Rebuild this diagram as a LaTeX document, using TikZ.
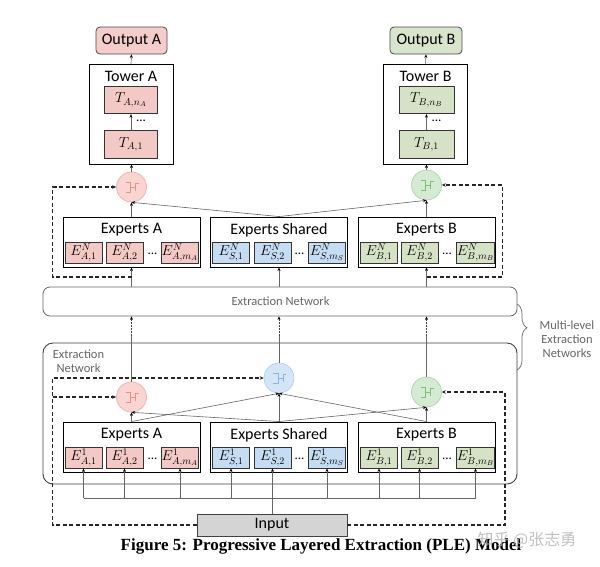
\documentclass[tikz,border=0pt]{standalone}
\usepackage{fontspec}
\newfontfamily\carl{Carlito}
\newfontfamily\capserif{Liberation Serif}
\newfontfamily\cjkfont{Noto Sans CJK SC}
\usetikzlibrary{arrows.meta,decorations.pathreplacing,calc}

\definecolor{pinkE}{HTML}{F2C9C5}
\definecolor{pinkO}{HTML}{F4CCCC}
\definecolor{blueE}{HTML}{C5DCF3}
\definecolor{greenE}{HTML}{D6E2C6}
\definecolor{greenO}{HTML}{D9E4CD}
\definecolor{gApink}{HTML}{F9D4D1}
\definecolor{gApinkD}{HTML}{EEAAA4}
\definecolor{gApinkI}{HTML}{E2938C}
\definecolor{gSblue}{HTML}{D5E5F8}
\definecolor{gSblueD}{HTML}{AFCAEC}
\definecolor{gSblueI}{HTML}{8FB3DF}
\definecolor{gBgreen}{HTML}{D5EAD2}
\definecolor{gBgreenD}{HTML}{A8D2A2}
\definecolor{gBgreenI}{HTML}{80BE79}

\newcommand{\gicon}[2]{%
 \begin{scope}[shift={(#1.center)}, line width=0.5pt, draw=#2]
  \draw (-6,-5) -- (-1,-5) -- (-1,5) -- (-6,5);
  \draw (-1,0) -- (4,0);
  \draw (4,-4) -- (4,4);
  \draw (4,-4) -- (7,-4);
 \end{scope}}

\newcommand{\exrow}[3]{%
 \node[xbox] (#3A) at (131.5,#1) {};
 \node[xbox] (#3S) at (279,#1) {};
 \node[xbox] (#3B) at (426.5,#1) {};
 \node[lab] at (131.5,{#1-12}) {Experts A};
 \node[lab] at (279,{#1-12}) {Experts Shared};
 \node[lab] at (426.5,{#1-12}) {Experts B};
 \node[ebox,fill=pinkE] (#3a1) at (83.5,{#1+10.5}) {$E^{#2}_{A,1}$};
 \node[ebox,fill=pinkE] (#3a2) at (124.5,{#1+10.5}) {$E^{#2}_{A,2}$};
 \node[edots] (#3ad) at (152.5,{#1+12}) {...};
 \node[ebox,fill=pinkE] (#3am) at (180,{#1+10.5}) {$E^{#2}_{A,m_A}$};
 \node[ebox,fill=blueE] (#3s1) at (231,{#1+10.5}) {$E^{#2}_{S,1}$};
 \node[ebox,fill=blueE] (#3s2) at (272.5,{#1+10.5}) {$E^{#2}_{S,2}$};
 \node[edots] (#3sd) at (299.5,{#1+12}) {...};
 \node[ebox,fill=blueE] (#3sm) at (327,{#1+10.5}) {$E^{#2}_{S,m_S}$};
 \node[ebox,fill=greenE] (#3b1) at (379,{#1+10.5}) {$E^{#2}_{B,1}$};
 \node[ebox,fill=greenE] (#3b2) at (419.5,{#1+10.5}) {$E^{#2}_{B,2}$};
 \node[edots] (#3bd) at (447,{#1+12}) {...};
 \node[ebox,fill=greenE] (#3bm) at (475.5,{#1+10.5}) {$E^{#2}_{B,m_B}$};
}

\begin{document}
\begin{tikzpicture}[x=1pt,y=-1pt,
  lab/.style={font=\carl\fontsize{16}{18}\selectfont, inner sep=0pt},
  xbox/.style={draw=black, line width=0.9pt, minimum width=137pt, minimum height=50pt, inner sep=0pt},
  ebox/.style={draw=black!80, line width=0.8pt, minimum width=37pt, minimum height=21pt, inner sep=0pt, font=\fontsize{14}{14}\selectfont},
  tbox/.style={draw=black!80, line width=0.8pt, minimum width=53pt, minimum height=27.5pt, inner sep=0pt, font=\fontsize{14}{14}\selectfont},
  edots/.style={font=\carl\fontsize{13}{13}\selectfont, inner sep=0pt},
  gate/.style={circle, minimum size=30pt, inner sep=0pt, line width=0.6pt},
  conn/.style={draw=black!60, line width=0.6pt, -{Stealth[length=3.5pt,width=3pt,black]}},
  plain/.style={draw=black!60, line width=0.6pt},
  dotc/.style={draw=black!75, line width=0.8pt, dash pattern=on 1.5pt off 1.5pt, -{Stealth[length=3.5pt,width=3pt,black]}},
  dconn/.style={draw=black!85, line width=1.1pt, dash pattern=on 4pt off 2.5pt, -{Stealth[length=4pt,width=3.5pt]}},
  graytxt/.style={text=black!60, font=\carl\fontsize{12.5}{14}\selectfont, inner sep=0pt, align=center}
]
\fill[white] (0,0) rectangle (600,566);
\useasboundingbox (0,0) rectangle (600,566);

% ---------- outputs and towers ----------
\node[lab, draw=black!70, line width=0.8pt, rounded corners=4pt, fill=pinkO, minimum width=71pt, minimum height=27pt] (oA) at (131.5,40.5) {Output A};
\node[lab, draw=black!70, line width=0.8pt, rounded corners=4pt, fill=greenO, minimum width=72pt, minimum height=27pt] (oB) at (426,40.5) {Output B};

\node[draw=black, line width=0.9pt, minimum width=84pt, minimum height=100pt, inner sep=0pt] (towA) at (131,114) {};
\node[lab] (towAl) at (131,76) {Tower A};
\node[tbox, fill=pinkE] (TAn) at (131,100) {$T_{A,n_A}$};
\node[tbox, fill=pinkE] (TA1) at (131,144.5) {$T_{A,1}$};
\node[edots] (TAd) at (141,121) {...};

\node[draw=black, line width=0.9pt, minimum width=84pt, minimum height=100pt, inner sep=0pt] (towB) at (425.5,114) {};
\node[lab] (towBl) at (425.5,76) {Tower B};
\node[tbox, fill=greenE, minimum width=55pt] (TBn) at (426.5,100) {$T_{B,n_B}$};
\node[tbox, fill=greenE, minimum width=55pt] (TB1) at (426.5,144.5) {$T_{B,1}$};
\node[edots] (TBd) at (436.5,121) {...};

\draw[conn] (TA1.north) -- (TAn.south);
\draw[conn] (TB1.north) -- (TBn.south);
\draw[conn] (towA.north) -- (oA.south);
\draw[conn] (towB.north) -- (oB.south);

% ---------- top level ----------
\node[gate, fill=gApink, draw=gApinkD] (gtA) at (131.5,187) {};
\gicon{gtA}{gApinkI}
\node[gate, fill=gBgreen, draw=gBgreenD] (gtB) at (426.5,185) {};
\gicon{gtB}{gBgreenI}

\exrow{242}{N}{t}

\draw[conn] (tA.north) -- (gtA.south);
\draw[conn] (tS.north) -- (gtA.south);
\draw[conn] (tS.north) -- (gtB.south);
\draw[conn] (tB.north) -- (gtB.south);
\draw[conn] (gtA.north) -- (towA.south -| gtA.north);
\draw[conn] (gtB.north) -- (towB.south -| gtB.north);

% ---------- extraction network band ----------
\node[draw=black!60, line width=0.8pt, rounded corners=7pt, minimum width=474pt, minimum height=29pt, inner sep=0pt] (band) at (280,301.5) {};
\node[graytxt] (bandl) at (280.5,301.5) {Extraction Network};

\draw[conn] (band.north -| tA.south) -- (tA.south);
\draw[conn] (band.north -| tS.south) -- (tS.south);
\draw[conn] (band.north -| tB.south) -- (tB.south);

\coordinate (dl) at (131.5,277);
\coordinate (dr) at (426.5,277);
\draw[dconn] (dl) -- (52.5,277) |- (gtA.west);
\draw[dconn] (dr) -- (502.5,277) |- (gtB.east);

% brace and label
\draw[black!60, line width=0.7pt, decorate, decoration={brace, amplitude=10pt, aspect=0.36}] (517,304) -- (517,370);
\node[graytxt] (ml) at (567,339) {Multi-level\\Extraction\\Networks};

% ---------- lower level ----------
\node[draw=black!75, line width=0.9pt, rounded corners=10pt, minimum width=474pt, minimum height=141pt, inner sep=0pt] (lbox) at (280,413.5) {};
\node[graytxt] (lboxl) at (78.5,361) {Extraction\\Network};

\node[gate, fill=gApink, draw=gApinkD] (glA) at (131.5,397) {};
\gicon{glA}{gApinkI}
\node[gate, fill=gSblue, draw=gSblueD] (glS) at (279,378) {};
\gicon{glS}{gSblueI}
\node[gate, fill=gBgreen, draw=gBgreenD] (glB) at (426.5,392) {};
\gicon{glB}{gBgreenI}

\exrow{447}{1}{l}

\draw[conn] (lA.north) -- (glA.south);
\draw[conn] (lS.north) -- (glA.south);
\draw[conn] (lA.north) -- (glS.south);
\draw[conn] (lS.north) -- (glS.south);
\draw[conn] (lB.north) -- (glS.south);
\draw[conn] (lS.north) -- (glB.south);
\draw[conn] (lB.north) -- (glB.south);

% gate outputs up to band (solid then dotted)
\foreach \g in {glA,glS,glB}{
  \coordinate (m\g) at ($(\g.north |- lbox.north)+(0,-7)$);
  \draw[plain] (\g.north) -- (m\g);
  \draw[dotc] (m\g) -- (band.south -| \g.north);
}

% ---------- input ----------
\node[lab, draw=black!75, line width=0.8pt, fill=black!17, minimum width=150pt, minimum height=22pt] (inp) at (272,525) {Input};
\coordinate (busC) at (272,498);
\draw[plain] (inp.north) -- (busC);
\draw[plain] (la1.south |- busC) -- (lbm.south |- busC);
\foreach \n in {la1,la2,lam,ls1,ls2,lsm,lb1,lb2,lbm}{
  \draw[conn] (\n.south |- busC) -- (\n.south);
}

\coordinate (brL) at (52.5,397);
\draw[dconn] (inp.west) -- (52.5,525) |- (glS.west);
\draw[dconn] (brL) -- (glA.west);
\draw[dconn] (inp.east) -- (505,525) |- (glB.east);

% ---------- caption ----------
\node[font=\capserif\bfseries\fontsize{17}{20}\selectfont, inner sep=0pt] (cap) at (321,546) {Figure 5: Progressive Layered Extraction (PLE) Model};
\node[text=black!30, opacity=0.8, font=\cjkfont\fontsize{16}{16}\selectfont, inner sep=0pt] (wm) at (527,540) {知乎 @张志勇};
\end{tikzpicture}
\end{document}
